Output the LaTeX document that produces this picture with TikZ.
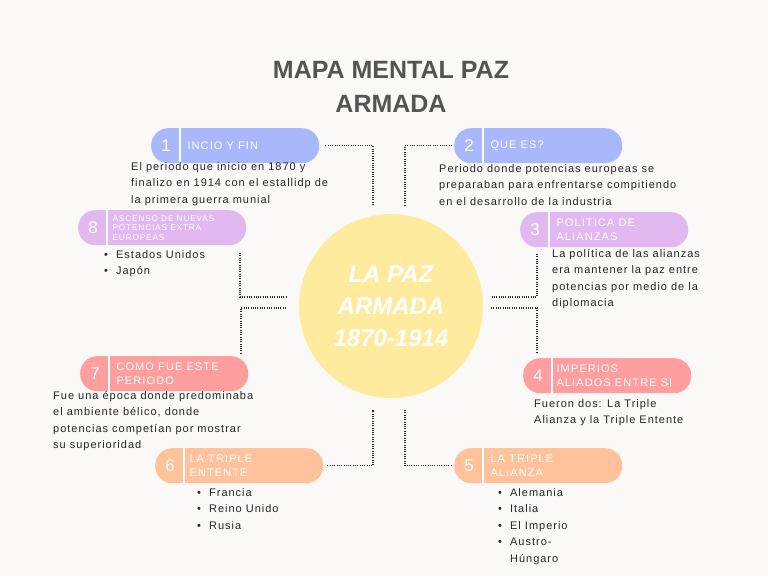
\documentclass[tikz,border=0pt]{standalone}
\usepackage{fontspec}
\setmainfont{Liberation Sans}
\newfontfamily\spaced[LetterSpace=10]{Liberation Sans}
\newfontfamily\body[LetterSpace=9]{Liberation Sans}
\definecolor{bg}{HTML}{FAF9F7}
\definecolor{blu}{HTML}{A9B8FB}
\definecolor{lil}{HTML}{E2B8F0}
\definecolor{pnk}{HTML}{FF9E9E}
\definecolor{org}{HTML}{FFC29A}
\definecolor{yel}{HTML}{FFEB9E}
\definecolor{ttl}{HTML}{545454}
\tikzset{
 pill/.style={fill=#1,draw=none,rounded corners=17pt,minimum width=168pt,minimum height=35pt},
 num/.style={text=white,font=\fontsize{17}{17}\selectfont},
 lab/.style={text=white,font=\spaced\fontsize{11}{14}\selectfont,align=left,anchor=west},
 small/.style={text=white,font=\spaced\fontsize{8.3}{9.5}\selectfont,align=left,anchor=west},
 txt/.style={font=\body\fontsize{11}{16.5}\selectfont,align=left,anchor=north west,inner sep=0pt,text=black!85},
 dot/.style={line width=1.3pt,dash pattern=on 1pt off 1.3pt,black!85},
 divl/.style={white,line width=1.5pt}
}
\newcommand{\pillbox}[7]{% name,color,x1,y1,x2,y2,number
 \node[pill=#2,anchor=north west] (#1) at (#3,#4) {};
 \draw[divl] (#3+29,#4) -- (#3+29,#6);
 \node[num] (#1n) at (#3+15,{(#4+#6)/2}) {#7};
}
\begin{document}
\begin{tikzpicture}[x=1pt,y=-1pt]
\fill[bg] (0,0) rectangle (768,576);
\useasboundingbox (0,0) rectangle (768,576);
\node[text=ttl,font=\bfseries\fontsize{25}{34}\selectfont,align=center] (title) at (391,87) {MAPA MENTAL PAZ\\ARMADA};
\node[circle,fill=yel,minimum size=184pt,inner sep=0pt,text=white,font=\bfseries\itshape\fontsize{24}{32}\selectfont,align=center] (c) at (391,306) {LA PAZ\\ARMADA\\1870-1914};
% 1
\pillbox{p1}{blu}{151}{128}{319}{163}{1}
\node[lab] (l1) at (184,145.5) {INCIO Y FIN};
\node[txt] (t1) at (131,162) {El periodo que inicio en 1870 y\\finalizo en 1914 con el estallidp de\\la primera guerra munial};
% 2
\pillbox{p2}{blu}{454}{128}{622}{163}{2}
\node[lab] (l2) at (487,145.5) {QUE ES?};
\node[txt] (t2) at (439,164) {Periodo donde potencias europeas se\\preparaban para enfrentarse compitiendo\\en el desarrollo de la industria};
% 8
\pillbox{p8}{lil}{78}{210}{246}{246}{8}
\node[small] (l8) at (109,228) {ASCENSO DE NUEVAS\\POTENCIAS EXTRA\\EUROPEAS};
\node[txt] (t8) at (104,250) {\textbullet\ \ Estados Unidos\\\textbullet\ \ Japón};
% 3
\pillbox{p3}{lil}{520}{212}{690}{248}{3}
\node[lab] (l3) at (553,230) {POLITICA DE\\ALIANZAS};
\node[txt] (t3) at (552,249) {La política de las alianzas\\era mantener la paz entre\\potencias por medio de la\\diplomacia};
% 7
\pillbox{p7}{pnk}{80}{356}{248}{392}{7}
\node[lab] (l7) at (113,374) {COMO FUE ESTE\\PERIODO};
\node[txt] (t7) at (53,391) {Fue una época donde predominaba\\el ambiente bélico, donde\\potencias competían por mostrar\\su superioridad};
% 4
\pillbox{p4}{pnk}{523}{358}{691}{393}{4}
\node[lab] (l4) at (553,375.5) {IMPERIOS\\ALIADOS ENTRE SI};
\node[txt] (t4) at (534,399) {Fueron dos: La Triple\\Alianza y la Triple Entente};
% 6
\pillbox{p6}{org}{155}{448}{323}{484}{6}
\node[lab] (l6) at (186,466) {LA TRIPLE\\ENTENTE};
\node[txt] (t6) at (197,488) {\textbullet\ \ Francia\\\textbullet\ \ Reino Unido\\\textbullet\ \ Rusia};
% 5
\pillbox{p5}{org}{454}{448}{622}{484}{5}
\node[lab] (l5) at (487,466) {LA TRIPLE\\ALIANZA};
\node[txt] (t5) at (498,488) {\textbullet\ \ Alemania\\\textbullet\ \ Italia\\\textbullet\ \ El Imperio\\\textbullet\ \ Austro-\\\phantom{\textbullet\ \ }Húngaro};
% connectors
\coordinate (a1) at (373,205); \coordinate (a2) at (405,206);
\coordinate (a8) at (286,297); \coordinate (a7) at (286,308);
\coordinate (a3) at (491,297); \coordinate (a4) at (491,308);
\coordinate (a6) at (373,410); \coordinate (a5) at (405,410);
\draw[dot] (p1.east)++(6,0) -| (a1);
\draw[dot] (p2.west)++(-2,0) -| (a2);
\draw[dot] (240,253) |- (a8);
\draw[dot] (a7) -| (241,353);
\draw[dot] (537,254) |- (a3);
\draw[dot] (a4) -| (537,353);
\draw[dot] (p6.east)++(4,0) -| (a6);
\draw[dot] (a5) |- ([xshift=-2pt]p5.west);
\end{tikzpicture}
\end{document}
